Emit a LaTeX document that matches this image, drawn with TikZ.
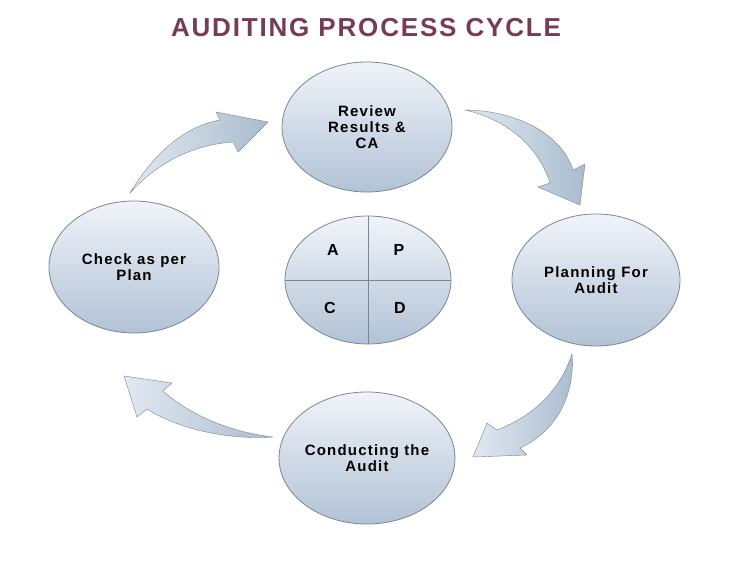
\documentclass[tikz,border=0pt]{standalone}
\usepackage{fontspec}
\setmainfont{Liberation Sans}
\usetikzlibrary{shapes.geometric}
\definecolor{titlered}{RGB}{120,60,80}
\definecolor{ringedge}{RGB}{120,135,150}
\definecolor{ringlow}{RGB}{178,194,214}
\definecolor{ringtop}{RGB}{240,244,249}
\definecolor{arrowdark}{RGB}{170,188,206}
\definecolor{arrowlight}{RGB}{225,233,241}
\tikzset{
  stage/.style={ellipse,draw=ringedge,thick,top color=ringtop,bottom color=ringlow,inner sep=0pt,
    font=\bfseries\fontsize{15}{16}\selectfont\addfontfeature{LetterSpace=8},align=center},
  flow/.style={draw=ringedge,line join=miter,left color=arrowlight,right color=arrowdark},
  letter/.style={font=\bfseries\fontsize{16}{18}\selectfont}
}
\begin{document}
\begin{tikzpicture}[x=1pt,y=-1pt]
   \useasboundingbox (0,0) rectangle (736,578);
   \fill[white] (0,0) rectangle (736,578);
   \node[font=\bfseries\fontsize{26}{28}\selectfont\addfontfeature{LetterSpace=7},text=titlered] (title) at (366,28) {AUDITING PROCESS CYCLE};
   \begin{scope}
    \node[stage,minimum width=170pt,minimum height=130pt] (review) at (367,127) {Review\\Results \&\\CA};
    \node[stage,minimum width=168pt,minimum height=132pt] (plan) at (596,280) {Planning For\\Audit};
    \node[stage,minimum width=164pt,minimum height=132pt] (conduct) at (367,458) {Conducting the\\Audit};
    \node[stage,minimum width=170pt,minimum height=132pt] (check) at (134,267) {Check as per\\Plan};
    \node[stage,minimum width=166pt,minimum height=128pt] (pdca) at (368,280) {};
   \end{scope}
   \draw[ringedge,thick] (pdca.north) -- (pdca.south);
   \draw[ringedge,thick] (pdca.west) -- (pdca.east);
   \node[letter] (la) at (333,250) {A};
   \node[letter] (lp) at (399,250) {P};
   \node[letter] (lc) at (330,308) {C};
   \node[letter] (ld) at (400,308) {D};
   % cycle arrows
   \path[flow] (130,193) .. controls (150,160) and (180,127) .. (220,120) -- (216,112) -- (268,122)
     -- (238,152) -- (233,142) .. controls (190,145) and (155,165) .. cycle;
   \path[flow] (465,110) .. controls (510,110) and (560,130) .. (573,170) -- (585,164) -- (580,205)
     -- (538,187) -- (550,183) .. controls (540,150) and (510,120) .. cycle;
   \path[flow] (572,354) .. controls (575,390) and (560,430) .. (520,448) -- (527,455) -- (473,457)
     -- (487,423) -- (497,430) .. controls (535,415) and (560,390) .. cycle;
   \path[flow] (273,437) .. controls (230,440) and (180,430) .. (147,409) -- (137,417) -- (124,376)
     -- (172,383) -- (163,391) .. controls (190,415) and (230,432) .. cycle;
\end{tikzpicture}
\end{document}
